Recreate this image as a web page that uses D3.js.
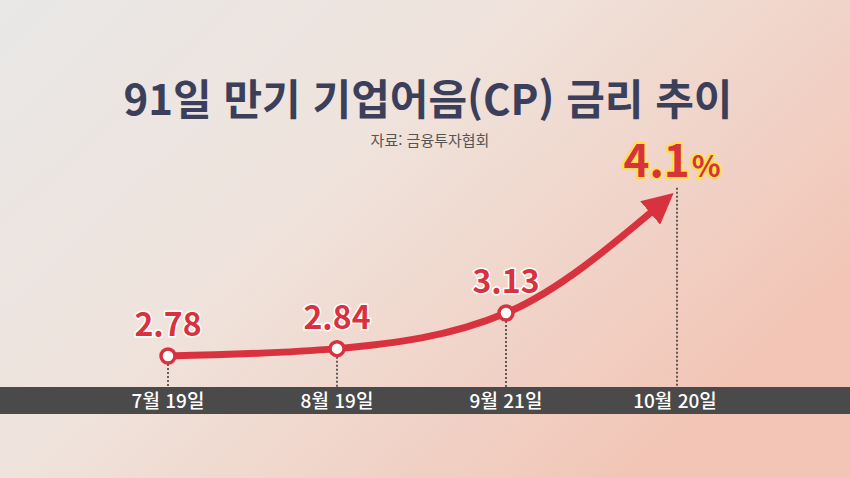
<!DOCTYPE html>
<html lang="ko">
<head>
<meta charset="UTF-8">
<script src="https://d3js.org/d3.v7.min.js"></script>
<style>
  body { margin: 0; overflow: hidden; }
  text { font-family: "Noto Sans CJK KR", "Noto Sans", sans-serif; }
</style>
</head>
<body>
<script>
var dates = ["7월 19일", "8월 19일", "9월 21일", "10월 20일"];
var rates = [2.78, 2.84, 3.13, 4.1];
var labels = ["2.78", "2.84", "3.13", "4.1"];

var width = 850, height = 478;
var svg = d3.select("body").append("svg").attr("width", width).attr("height", height);

var defs = svg.append("defs");
var grad = defs.append("linearGradient").attr("id", "bg").attr("x1", "0").attr("y1", "0").attr("x2", "1").attr("y2", "0.6");
grad.append("stop").attr("offset", "0").attr("stop-color", "#e9e8e7");
grad.append("stop").attr("offset", "0.45").attr("stop-color", "#efe3dc");
grad.append("stop").attr("offset", "1").attr("stop-color", "#f2c5b6");
svg.append("rect").attr("width", width).attr("height", height).attr("fill", "url(#bg)");

defs.append("marker").attr("id", "arrow").attr("viewBox", "0 0 10 10")
  .attr("refX", 5).attr("refY", 5).attr("markerWidth", 4.4).attr("markerHeight", 4.4)
  .attr("markerUnits", "strokeWidth").attr("orient", "auto")
  .append("path").attr("d", "M0,0 L10,5 L0,10 Z").attr("fill", "#d8323f");

// title
svg.append("text").attr("x", 428).attr("y", 115).attr("text-anchor", "middle")
  .attr("font-size", 42).attr("font-weight", 700).attr("fill", "#3c3f5a")
  .text("91일 만기 기업어음(CP) 금리 추이");
svg.append("text").attr("x", 430).attr("y", 146).attr("text-anchor", "middle")
  .attr("font-size", 15).attr("fill", "#555").text("자료: 금융투자협회");

var x = d3.scalePoint().domain(dates).range([168, 675]);
var y = d3.scaleLinear().domain([2.78, 3.13]).range([356, 313]);

// band
svg.append("rect").attr("x", 0).attr("y", 387).attr("width", width).attr("height", 27).attr("fill", "#4a4a4a");
svg.selectAll(".dl").data(dates).join("text")
  .attr("x", d => x(d)).attr("y", 408).attr("text-anchor", "middle")
  .attr("font-size", 19).attr("font-weight", 500).attr("fill", "#fff").text(d => d);

// dotted drops
svg.selectAll(".drop").data(rates).join("line")
  .attr("x1", (d, i) => x(dates[i]) + (i == 3 ? 2 : 0)).attr("x2", (d, i) => x(dates[i]) + (i == 3 ? 2 : 0))
  .attr("y1", (d, i) => i == 3 ? y(d) - 6 : y(d)).attr("y2", 387)
  .attr("stroke", "#333").attr("stroke-width", 1.5).attr("stroke-dasharray", "2,2");

var pts = rates.map((d, i) => [x(dates[i]), y(d)]);
var last = pts[3], prev = pts[2];
var dx = last[0] - prev[0], dy = last[1] - prev[1], len = Math.hypot(dx, dy);
var endPt = [last[0] - dx / len * 16, last[1] - dy / len * 16];
var linePts = pts.slice(0, 3).concat([endPt]);

svg.append("path").datum(linePts)
  .attr("d", d3.line().curve(d3.curveMonotoneX))
  .attr("fill", "none").attr("stroke", "#d8323f").attr("stroke-width", 7)
  .attr("stroke-linecap", "round").attr("marker-end", "url(#arrow)");

svg.selectAll(".pt").data(pts.slice(0, 3)).join("circle")
  .attr("cx", d => d[0]).attr("cy", d => d[1]).attr("r", 7)
  .attr("fill", "#fff").attr("stroke", "#d8323f").attr("stroke-width", 3.5);

// value labels
svg.selectAll(".vl").data(rates.slice(0, 3)).join("text")
  .attr("x", (d, i) => x(dates[i])).attr("y", d => y(d) - 20).attr("text-anchor", "middle")
  .attr("font-size", 32).attr("font-weight", 700).attr("fill", "#d8323f")
  .attr("stroke", "#fff").attr("stroke-width", 3).attr("paint-order", "stroke")
  .text((d, i) => labels[i]);

var big = svg.append("text").attr("x", 672).attr("y", 177).attr("text-anchor", "middle")
  .attr("font-weight", 700).attr("fill", "#d8323f")
  .attr("stroke", "#ffe14a").attr("stroke-width", 4).attr("paint-order", "stroke");
big.append("tspan").attr("font-size", 44).text(labels[3]);
big.append("tspan").attr("font-size", 30).attr("dx", 2).text("%");
</script>
</body>
</html>
